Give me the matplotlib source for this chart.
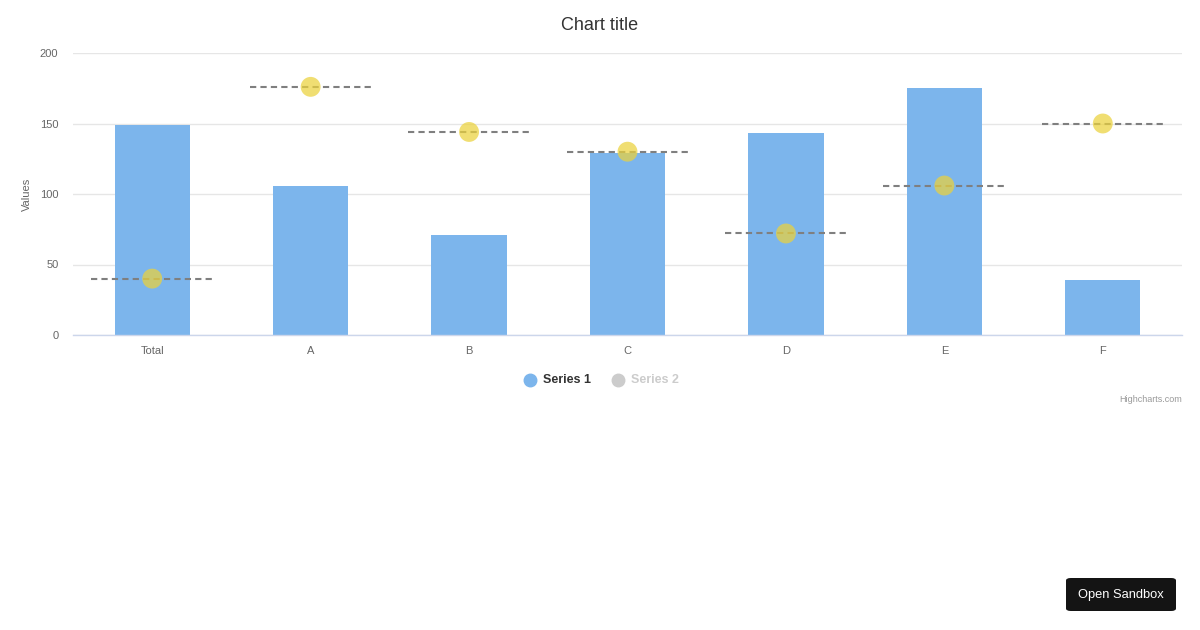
import matplotlib
matplotlib.use("Agg")
import matplotlib.pyplot as plt
from matplotlib.patches import FancyBboxPatch
from matplotlib.lines import Line2D

categories = ["Total", "A", "B", "C", "D", "E", "F"]
series1 = [149, 106, 71, 129, 143, 175, 39]
series2 = [40, 176, 144, 130, 72, 106, 150]
y_ticks = [0, 50, 100, 150, 200]

plt.rcParams['font.family'] = ['Liberation Sans', 'DejaVu Sans']

W, H = 1200, 630
fig = plt.figure(figsize=(W / 100, H / 100), dpi=100)
fig.patch.set_facecolor('white')
ax = fig.add_axes([73 / W, 1 - 335 / H, (1182 - 73) / W, (335 - 53) / H])

x = list(range(len(categories)))
ax.bar(x, series1, width=0.475, color='#7cb5ec', zorder=2)

for xi, v in zip(x, series2):
    ax.plot([xi - 0.385, xi + 0.385], [v, v], color='#7f7f7f', lw=1.5,
            dashes=(3, 2), zorder=3, solid_capstyle='butt')
ax.scatter(x, series2, s=205, color='#ebd23c', alpha=0.72, edgecolors='none', zorder=4)

ax.set_xlim(-0.5, len(categories) - 0.5)
ax.set_ylim(0, 200)
ax.set_yticks(y_ticks)
ax.set_xticks(x)
ax.set_xticklabels(categories)
ax.tick_params(axis='both', length=0, labelsize=8, labelcolor='#666666')
ax.tick_params(axis='x', pad=8)
ax.tick_params(axis='y', pad=10.5)
ax.grid(axis='y', color='#e6e6e6', lw=1, zorder=0)
ax.set_axisbelow(True)
for s in ['top', 'right', 'left']:
    ax.spines[s].set_visible(False)
ax.spines['bottom'].set_color('#ccd6eb')
ax.spines['bottom'].set_linewidth(1)
ax.spines['bottom'].set_zorder(5)

fig.text(27 / W, 1 - 194 / H, "Values", rotation=90, ha='center', va='center',
         fontsize=8, color='#666666')
fig.text(600 / W, 1 - 26 / H, "Chart title", ha='center', va='center',
         fontsize=13, color='#333333')

# legend
fig.add_artist(Line2D([530 / W], [1 - 380 / H], marker='o', markersize=9,
                      color='#7cb5ec', transform=fig.transFigure, lw=0))
fig.text(543 / W, 1 - 380 / H, "Series 1", ha='left', va='center', fontsize=9,
         fontweight='bold', color='#333333')
fig.add_artist(Line2D([618 / W], [1 - 380 / H], marker='o', markersize=9,
                      color='#cccccc', transform=fig.transFigure, lw=0))
fig.text(631 / W, 1 - 380 / H, "Series 2", ha='left', va='center', fontsize=9,
         fontweight='bold', color='#cccccc')

fig.text(1182 / W, 1 - 399 / H, "Highcharts.com", ha='right', va='center',
         fontsize=6.5, color='#999999')

btn = FancyBboxPatch((1066 / W, 1 - 611 / H), 110 / W, 33 / H,
                     boxstyle="round,pad=0,rounding_size=0.004",
                     transform=fig.transFigure, facecolor='#141414',
                     edgecolor='none')
fig.add_artist(btn)
fig.text(1121 / W, 1 - 595 / H, "Open Sandbox", ha='center', va='center',
         fontsize=9.3, color='white')

fig.savefig("out.png", dpi=100)
